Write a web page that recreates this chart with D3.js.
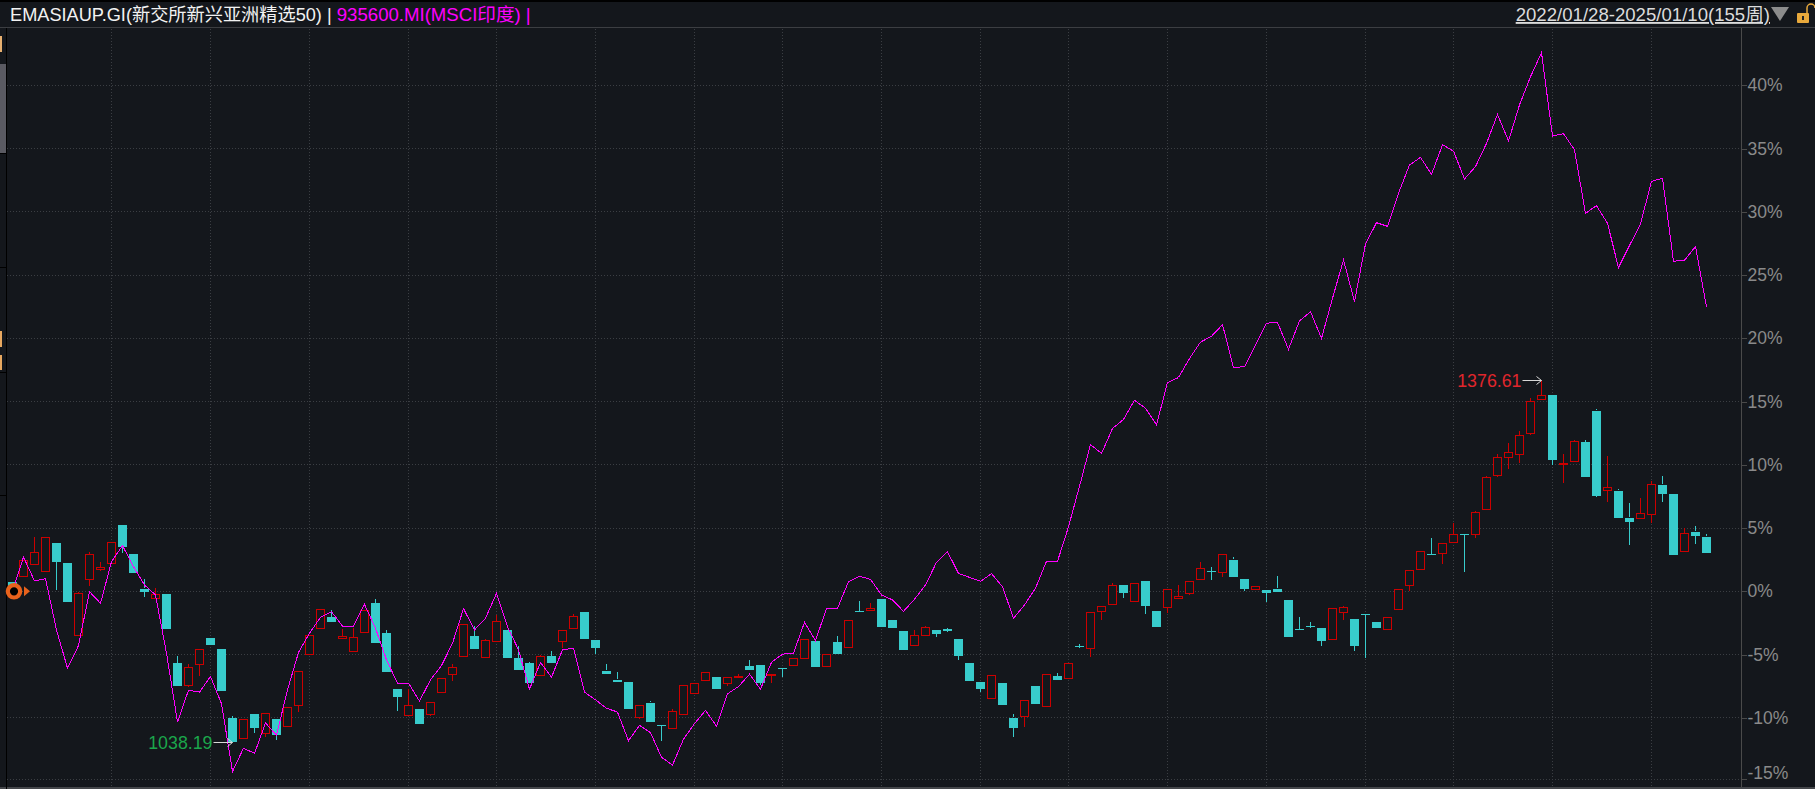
<!DOCTYPE html>
<html>
<head>
<meta charset="utf-8">
<title>EMASIAUP.GI vs 935600.MI</title>
<script src="https://cdn.jsdelivr.net/npm/d3@7"></script>
<style>
    html, body { margin: 0; padding: 0; background: #14171c; overflow: hidden; }
    svg { display: block; font-family: "Liberation Sans", "Noto Sans CJK SC", sans-serif; }
</style>
</head>
<body>
<script>
// weekly candles, % change from the first bar
const opens = [
    0.74, 1.16, 2.11, 1.58, 3.82, 2.24, -3.47, 0.95, 1.76, 2.21, 5.32, 2.95, 0.26, -0.58, -0.21, -5.66, -7.45, -5.76, -3.68, -4.55, -10, -11.68, -9.68, -11.21, -10.08, -10.66, -9, -4.97, -2.92, -2.03,
    -3.71, -4.74, -3.24, -0.92, -3.29, -7.71, -9.79, -9.29, -9.74, -7.97, -6.55, -5.13, -3.53, -5.21, -3.95, -3.05, -5.26, -5.66, -6.63, -5.11, -3.95, -2.92, -1.63, -3.84, -6.24, -6.95, -7.16, -9.95, -8.76, -10.55, -10.82,
    -9.74, -8.05, -7.03, -6.76, -7.26, -6.82, -5.89, -5.82, -6.63, -6.05, -5.84, -5.32, -3.92, -5.92, -4, -4.42, -1.55, -1.5, -0.53, -2.26, -3.13, -4.26, -3.47, -3.05, -2.97, -3.76, -5.66, -7.16, -8.45, -7.24, -9.95,
    -9.89, -7.47, -9.08, -6.68, -6.87, -4.32, -4.5, -1.58, -1.05, 0.5, -0.79, 0.82, -1.55, -1.26, -0.55, -0.16, 0.95, 1.61, 1.47, 2.55, 1.05, 0.16, 0.11, 0.26, -0.68, -2.97, -2.74, -2.89, -3.79, -1.66, -2.18,
    -1.79, -2.37, -3, -1.39, 0.47, 1.76, 2.95, 3, 3.87, 4.53, 4.5, 6.47, 9.16, 10.58, 10.82, 12.47, 15.16, 15.58, 10.05, 10.26, 11.84, 14.32, 7.95, 8, 5.87, 5.74, 6.08, 8.47, 7.76, 3.16, 4.76, 4.37
];
const closes = [
    0, 2.45, 3.08, 4.26, 2.34, -0.82, -0.16, 2.92, 1.89, 3.87, 3.61, 1.47, 0.05, -0.26, -2.95, -7.45, -6, -4.58, -4.21, -7.84, -11.95, -10.11, -10.84, -9.63, -11.39, -9.16, -6.32, -3.47, -1.42, -2.39,
    -3.55, -3.63, -1.5, -4.05, -6.34, -8.32, -9, -10.45, -8.79, -6.87, -6, -2.61, -4.53, -3.87, -2.37, -5.24, -6.18, -7.21, -5.13, -5.63, -3.08, -1.97, -3.74, -4.45, -6.5, -7.13, -9.26, -9, -10.29, -10.61, -9.47,
    -7.42, -7.26, -6.39, -7.68, -6.79, -6.76, -6.18, -7.21, -6.55, -6.11, -5.29, -3.79, -5.95, -4.97, -4.92, -2.29, -1.61, -1.37, -2.71, -2.87, -4.61, -3.47, -2.84, -3.34, -3.11, -5.08, -7.05, -7.68, -6.63, -8.95, -10.76,
    -8.61, -8.87, -6.55, -6.97, -5.68, -4.37, -1.66, -1.18, 0.47, -0.11, 0.63, -1.13, -2.79, 0.16, -0.42, 0.79, 1.79, 1.55, 2.92, 1.24, 0.29, 0.39, -0.11, 0.05, -3.58, -3.03, -2.79, -3.89, -1.34, -1.26, -4.29,
    -1.84, -2.87, -2.05, 0.16, 1.66, 3.16, 2.89, 3.79, 4.5, 4.47, 6.24, 9, 10.58, 10.97, 12.32, 15, 15.47, 10.47, 10.11, 11.84, 9.11, 7.63, 8.21, 5.89, 5.58, 6.16, 8.45, 7.79, 2.97, 4.58, 4.47, 3.13
];
const highs = [
    0.74, 2.45, 4.29, 4.26, 3.82, 2.24, -0.03, 3.11, 2.32, 3.87, 5.32, 2.95, 0.95, 0.24, -0.21, -5.11, -5.74, -4.58, -3.68, -4.55, -9.84, -10.11, -9.68, -9.63, -10.08, -9.16, -6.32, -3.47, -1.42, -1.47,
    -3, -2.89, -1.5, -0.63, -3.08, -7.71, -7.74, -9.29, -8.79, -6.87, -5.74, -2.61, -2.74, -3.79, -1.87, -3.05, -4.32, -5.58, -5, -4.71, -3.08, -1.82, -1.63, -3.84, -5.74, -6.37, -7.16, -9, -8.66, -10.55, -9.29,
    -7.42, -7.26, -6.39, -6.76, -6.79, -6.53, -5.42, -5.82, -6.55, -6.05, -5.29, -3.79, -3.92, -4.97, -3.53, -2.29, -0.76, -0.92, -0.53, -2.26, -3.13, -3.05, -2.74, -3.05, -2.89, -3.76, -5.66, -7.16, -6.63, -7.24, -9.68,
    -8.61, -7.47, -6.55, -6.45, -5.68, -4.16, -1.66, -1.18, 0.63, 0.5, 0.63, 0.82, -1.55, 0.16, 0.5, 0.79, 2.32, 1.92, 2.92, 2.71, 1.05, 0.39, 0.11, 1.21, -0.68, -2.03, -2.42, -2.89, -1.34, -1.16, -2.18,
    -1.79, -2.37, -2.05, 0.16, 1.66, 3.16, 4.21, 3.79, 5.42, 4.53, 6.32, 9.08, 10.82, 11.76, 12.66, 15.32, 16.63, 15.58, 10.84, 12, 12, 14.39, 10.68, 8.08, 6.97, 7.37, 8.74, 9.11, 7.76, 5, 5.16, 4.53
];
const lows = [
    0, 1.16, 2.11, 1.58, 0.11, -0.82, -3.47, 0.42, 1.63, 2.21, 3.05, 1.47, -0.42, -0.58, -2.95, -7.45, -7.53, -6.66, -4.21, -7.84, -12, -11.68, -11.24, -11.55, -11.79, -10.66, -9.58, -4.97, -2.92, -2.39,
    -3.71, -4.74, -3.24, -4.05, -6.34, -9.45, -9.79, -10.53, -9.89, -7.97, -7.13, -5.13, -4.53, -5.21, -3.95, -5.24, -6.18, -7.21, -6.63, -5.63, -4.45, -2.92, -3.74, -4.95, -6.5, -7.13, -9.26, -10.13, -10.29, -11.87, -10.82,
    -9.74, -8.05, -7.03, -7.68, -7.45, -6.82, -6.18, -7.39, -7.21, -6.74, -5.84, -5.32, -5.95, -5.92, -4.92, -4.42, -1.61, -1.5, -2.71, -2.87, -4.61, -4.26, -3.47, -3.61, -3.18, -5.42, -7.05, -7.95, -8.45, -8.95, -11.55,
    -10.76, -8.87, -9.08, -6.97, -6.87, -4.47, -5.16, -2.24, -1.05, -0.5, -0.79, -1.79, -2.79, -1.68, -0.55, -0.26, 0.95, 0.92, 1.16, 1.24, 0.05, 0.16, -0.82, 0.05, -3.58, -3.03, -2.87, -4.29, -3.79, -2.24, -4.68,
    -5.24, -2.87, -3, -1.39, 0.05, 1.76, 2.89, 2.18, 3.87, 1.55, 4.24, 6.47, 9.05, 9.68, 10.16, 12.37, 15.16, 9.97, 8.58, 10.26, 9.05, 7.47, 7.08, 5.82, 3.68, 5.74, 5.42, 7.08, 2.92, 3.16, 3.76, 3.05
];
// 935600.MI, % change
const msciIndia = [
    0, 2.71, 0.82, 1, -3.05, -6.08, -4.29, -0.03, -0.95, 2.34, 3.61, 1.95, 0.5, -0.29, -4.89, -10.34, -7.82, -7.97, -6.74, -8.89, -14.37, -12.47, -12.89, -10.42, -11.42, -7.79, -4.84, -3.32, -2.05, -1.61,
    -2.76, -2.76, -1.03, -2.92, -5.42, -7.26, -7.26, -8.68, -7, -5.87, -4.11, -1.37, -3.05, -2.13, -0.16, -2.79, -4.63, -7.74, -5.63, -6.79, -4.63, -4.5, -7.97, -8.58, -9.24, -9.55, -11.87, -10.61, -11.21, -13.21, -13.84,
    -11.74, -10.47, -9.42, -10.68, -8.11, -7.53, -6.55, -7.74, -5.61, -4.97, -4.89, -2.45, -3.89, -1.37, -1.34, 0.76, 1.18, 0.95, -0.29, -0.68, -1.58, -0.63, 0.5, 2.29, 3.13, 1.42, 1.1, 0.79, 1.39, 0.37, -2.13,
    -1.08, 0.24, 2.37, 2.37, 5.1, 8.3, 11.6, 10.9, 12.87, 13.58, 15.1, 14.47, 13.16, 16.5, 16.9, 18.4, 19.7, 20.16, 21.08, 17.68, 17.76, 19.45, 21.19, 21.26, 19.13, 21.37, 22.1, 20, 23.16, 26.2, 22.9,
    27.46, 29.14, 28.85, 31.46, 33.7, 34.3, 32.96, 35.3, 34.8, 32.6, 33.57, 35.4, 37.7, 35.6, 38.45, 40.68, 42.58, 35.99, 36.18, 34.9, 29.88, 30.49, 29.09, 25.59, 27.33, 29.04, 32.41, 32.65, 26.09, 26.17, 27.25, 22.5
];
const pctTicks = [-15, -10, -5, 0, 5, 10, 15, 20, 25, 30, 35, 40];
// bars where the vertical grid lines sit
const periodTicks = [9, 18, 27, 36, 44, 53, 62, 70, 79, 88, 96, 105, 114, 123, 131, 140, 149];
const lowBar = 20, lowLabel = "1038.19";
const highBar = 139, highLabel = "1376.61";

const width = 1815, height = 789;
const bg = "#14171c", red = "#cc0000", teal = "#38cccc", gridColor = "#3b3e43", axisColor = "#4a4a4a";
const bars = d3.range(opens.length);

const x = d3.scaleLinear().domain([0, 154]).range([12.5, 1706.5]);
// the last grid step in the source is a little shorter, hence three stops
const y = d3.scaleLinear().domain([-15, -10, 40]).range([779.3, 717.8, 85.3]);
const snap = v => Math.round(v - 0.5) + 0.5;

const svg = d3.select("body").append("svg").attr("width", width).attr("height", height);
svg.append("rect").attr("width", width).attr("height", height).attr("fill", bg);

// frame
svg.append("rect").attr("width", width).attr("height", 2).attr("fill", "#000");
svg.append("rect").attr("y", 27).attr("width", width).attr("height", 1).attr("fill", "#3c3e42");
svg.append("rect").attr("y", 787).attr("width", width).attr("height", 2).attr("fill", "#44464a");
svg.append("rect").attr("x", 6).attr("y", 28).attr("width", 1).attr("height", 761).attr("fill", "#000");

// cut off toolbar on the far left
const leftBits = [[0, 36, 2, 16, "#e8b070"], [0, 64, 6, 89, "#5a5a62"], [0, 331, 2, 16, "#e8a860"], [0, 355, 2, 15, "#e8a860"]];
svg.append("g").selectAll("rect").data(leftBits).enter().append("rect")
    .attr("x", d => d[0]).attr("y", d => d[1]).attr("width", d => d[2]).attr("height", d => d[3]).attr("fill", d => d[4]);
const leftRules = [153, 267, 372, 495];
svg.append("g").selectAll("rect").data(leftRules).enter().append("rect")
    .attr("x", 0).attr("y", d => d).attr("width", 6).attr("height", 1).attr("fill", "#000");

// grid
const grid = svg.append("g").attr("stroke", gridColor).attr("stroke-dasharray", "1 2").attr("shape-rendering", "crispEdges");
grid.selectAll(".h").data(pctTicks).enter().append("line")
    .attr("x1", 7).attr("x2", 1741)
    .attr("y1", d => snap(y(d))).attr("y2", d => snap(y(d)));
grid.selectAll(".v").data(periodTicks).enter().append("line")
    .attr("y1", 29).attr("y2", 787)
    .attr("x1", d => x(d)).attr("x2", d => x(d));

// right axis
const axis = svg.append("g").attr("transform", "translate(1741.5,0)")
    .call(d3.axisRight(y).tickValues(pctTicks).tickFormat(d => d + "%").tickSize(5).tickPadding(1));
axis.select(".domain").remove();
axis.selectAll("line").attr("stroke", axisColor).attr("shape-rendering", "crispEdges");
axis.selectAll("text").attr("fill", "#8a8a8a").attr("font-size", 17.5).attr("font-family", "Liberation Sans");
// bottom label is pushed up so it stays in the window
axis.selectAll("text").filter(d => d === -15).attr("y", -6);
svg.append("line").attr("x1", 1741.5).attr("x2", 1741.5).attr("y1", 28).attr("y2", 787)
    .attr("stroke", axisColor).attr("shape-rendering", "crispEdges");

// candles
const candles = svg.append("g").attr("shape-rendering", "crispEdges");
const candle = candles.selectAll("g").data(bars).enter().append("g")
    .attr("stroke", i => closes[i] >= opens[i] ? red : teal);
candle.append("line")
    .attr("x1", i => x(i)).attr("x2", i => x(i))
    .attr("y1", i => y(highs[i]))
    .attr("y2", i => y(Math.max(opens[i], closes[i])));
candle.append("line")
    .attr("x1", i => x(i)).attr("x2", i => x(i))
    .attr("y1", i => y(Math.min(opens[i], closes[i])))
    .attr("y2", i => y(lows[i]));
candle.append("rect")
    .attr("x", i => closes[i] >= opens[i] ? x(i) - 4 : x(i) - 4.5)
    .attr("width", i => closes[i] >= opens[i] ? 8 : 9)
    .attr("y", i => snap(y(Math.max(opens[i], closes[i]))))
    .attr("height", i => Math.max(1, Math.round(y(Math.min(opens[i], closes[i])) - y(Math.max(opens[i], closes[i])))))
    .attr("fill", i => closes[i] >= opens[i] ? bg : teal)
    .attr("stroke", i => closes[i] >= opens[i] ? red : "none");

// MSCI line
const line = d3.line().x((d, i) => x(i)).y(d => y(d));
svg.append("path").datum(msciIndia)
    .attr("d", line)
    .attr("fill", "none").attr("stroke", "#ff00ff").attr("stroke-width", 1).attr("shape-rendering", "crispEdges");

// high and low notes
function note(bar, value, label, color) {
    const ax = x(bar), ay = snap(y(value));
    const g = svg.append("g");
    g.append("path")
        .attr("d", `M${ax - 19},${ay}H${ax}M${ax - 5},${ay - 4}L${ax},${ay}L${ax - 5},${ay + 4}`)
        .attr("fill", "none").attr("stroke", "#d8d8d8").attr("stroke-width", 1);
    g.append("text").attr("x", ax - 20).attr("y", ay).attr("dy", "0.36em")
        .attr("text-anchor", "end").attr("font-size", 17.8).attr("fill", color).text(label);
}
note(lowBar, lows[lowBar], lowLabel, "#1ba64b");
note(highBar, highs[highBar], highLabel, "#e0262c");

// start marker
const marker = svg.append("g").attr("transform", `translate(${x(0) + 1.5},${y(0)})`);
marker.append("circle").attr("r", 6.2).attr("fill", "#000").attr("stroke", "#e8621c").attr("stroke-width", 4.2);
marker.append("path").attr("d", "M10,-5L16,0L10,5Z").attr("fill", "#e8621c");

// header
const header = svg.append("text").attr("x", 10).attr("y", 21)
    .attr("font-family", "'Liberation Sans', 'Noto Sans CJK SC'");
header.append("tspan").attr("fill", "#f2f2f2").attr("font-size", 18.2).text("EMASIAUP.GI(新交所新兴亚洲精选50) | ");
header.append("tspan").attr("fill", "#ff00ff").attr("font-size", 18.6).text("935600.MI(MSCI印度) |");
svg.append("text").attr("x", 1770).attr("y", 21).attr("text-anchor", "end").attr("font-size", 18.6)
    .attr("fill", "#dcdcdc").attr("text-decoration", "underline").text("2022/01/28-2025/01/10(155周)");
svg.append("path").attr("d", "M1771,7H1789L1780,21Z").attr("fill", "#8c8c8c");

// lock icon
svg.append("rect").attr("x", 1797).attr("y", 13).attr("width", 12).attr("height", 10).attr("rx", 1).attr("fill", "#e8a93c");
svg.append("rect").attr("x", 1802).attr("y", 16).attr("width", 2).attr("height", 4).attr("fill", "#222");
svg.append("path").attr("d", "M1807,13V8A4,4 0 0 1 1815,8").attr("fill", "none").attr("stroke", "#e8a93c").attr("stroke-width", 1.5);
</script>
</body>
</html>
